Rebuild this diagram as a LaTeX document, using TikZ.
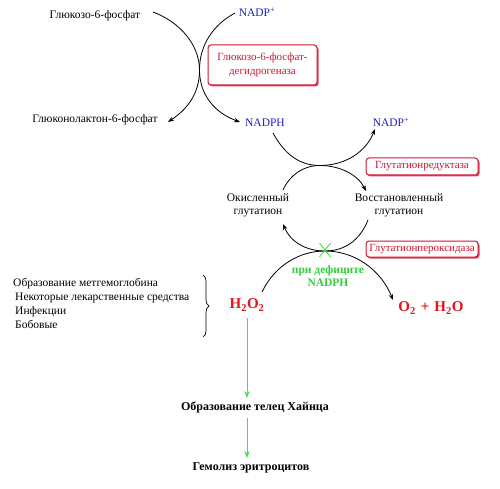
\documentclass[tikz,border=0pt]{standalone}
\usepackage{fontspec}
\setmainfont{Liberation Serif}
\usetikzlibrary{arrows.meta,decorations.pathreplacing,shadows}
\definecolor{nblue}{RGB}{30,30,190}
\definecolor{ered}{RGB}{210,20,50}
\definecolor{hred}{RGB}{225,20,30}
\definecolor{lgreen}{RGB}{70,225,70}
\definecolor{tgreen}{RGB}{50,205,60}
\begin{document}
\begin{tikzpicture}[x=1pt,y=-1pt,
  lbl/.style={font=\fontsize{11.5}{12.5}\selectfont, inner sep=0pt, align=center},
  nadp/.style={lbl, text=nblue},
  enz/.style={draw=ered, line width=1pt, rounded corners=3pt, fill=white, text=ered,
     font=\fontsize{11}{14.5}\selectfont, align=center, inner sep=0pt,
     drop shadow={shadow xshift=1.5pt, shadow yshift=-1.5pt, fill=ered!80, opacity=1}},
  conn/.style={line width=0.8pt, -{Stealth[length=6pt,width=4.5pt]}},
  garrow/.style={draw=lgreen, line width=1pt, -{Stealth[length=7pt,width=5.5pt]}},
  hd/.style={font=\fontsize{12}{14}\selectfont\bfseries, inner sep=0pt},
  chem/.style={font=\fontsize{15}{17}\selectfont\bfseries, text=hred, inner sep=0pt}
]
\useasboundingbox (0,0) rectangle (500,489);

% texts
\node[lbl] (g6p) at (95,16) {Глюкозо-6-фосфат};
\node[lbl] (glp) at (95,120) {Глюконолактон-6-фосфат};
\node[nadp] (nadp1) at (257,12) {NADP\textsuperscript{+}};
\node[nadp] (nadph) at (265,123) {NADPH};
\node[nadp] (nadp2) at (391,122) {NADP\textsuperscript{+}};
\node[enz, minimum width=109pt, minimum height=40pt] (g6pd) at (262.5,65) {Глюкозо-6-фосфат-\\дегидрогеназа};
\node[enz, minimum width=112pt, minimum height=17pt] (gr) at (422,166.5) {Глутатионредуктаза};
\node[enz, minimum width=112pt, minimum height=16pt] (gpx) at (422,249) {Глутатионпероксидаза};
\node[lbl] (ox) at (258,205.5) {Окисленный\\глутатион};
\node[lbl] (red) at (399,205.5) {Восстановленный\\глутатион};
\node[lbl, text=tgreen, font=\fontsize{11.5}{13.5}\selectfont\bfseries] (def) at (328,276) {при дефиците\\NADPH};
\node[chem] (h2o2) at (247,305) {H\textsubscript{2}O\textsubscript{2}};
\node[chem] (prod) at (431,308) {O\textsubscript{2}\,\,+\,\,H\textsubscript{2}O};
\node[lbl, align=left, anchor=north west, font=\fontsize{11.5}{13.9}\selectfont] (list) at (13,278)
  {Образование метгемоглобина\\\hspace{2pt}Некоторые лекарственные средства\\\hspace{2pt}Инфекции\\\hspace{2pt}Бобовые};
\node[hd] (heinz) at (255,407) {Образование телец Хайнца};
\node[hd] (hemo) at (251,468) {Гемолиз эритроцитов};

% crossing 1
\coordinate (a1) at (153,12); \coordinate (x1) at (199.5,70); \coordinate (a2) at (168,122);
\coordinate (b1) at (235,13); \coordinate (b2) at (240,122);
\draw[conn] (a1) .. controls (180,22) and (199.5,45) .. (x1) .. controls (199.5,95) and (186,110) .. (a2);
\draw[conn] (b1) .. controls (213,25) and (199.5,45) .. (x1) .. controls (199.5,95) and (215,113) .. (b2);

% crossing 2
\coordinate (c1) at (273,133); \coordinate (x2) at (320,165.5); \coordinate (c2) at (375,129);
\coordinate (d1) at (283,190); \coordinate (d2) at (366,191);
\draw[conn] (c1) .. controls (285,155) and (300,165.5) .. (x2) .. controls (345,165.5) and (366,152) .. (c2);
\draw[conn] (d1) .. controls (290,175) and (303,165.5) .. (x2) .. controls (340,165.5) and (358,175) .. (d2);

% crossing 3
\coordinate (e1) at (368,220); \coordinate (x3) at (325,251); \coordinate (e2) at (283,224);
\coordinate (f1) at (262,292); \coordinate (f2) at (393,300);
\draw[conn] (e1) .. controls (360,240) and (345,251) .. (x3) .. controls (305,251) and (290,241) .. (e2);
\draw[conn] (f1) .. controls (275,265) and (300,251) .. (x3) .. controls (355,251) and (381,270) .. (f2);

% green cross
\draw[lgreen, line width=0.9pt] (319.5,243) -- (330.5,257) (330.5,243) -- (319.5,257);

% brace
\draw[line width=0.7pt, decorate, decoration={brace, amplitude=6pt}] (203,275) -- (203,337);

% green arrows
\coordinate (g1) at (247,318); \coordinate (g2) at (247,398);
\coordinate (g3) at (247,418); \coordinate (g4) at (247,458);
\draw[garrow] (g1) -- (g2);
\draw[garrow] (g3) -- (g4);
\end{tikzpicture}
\end{document}
